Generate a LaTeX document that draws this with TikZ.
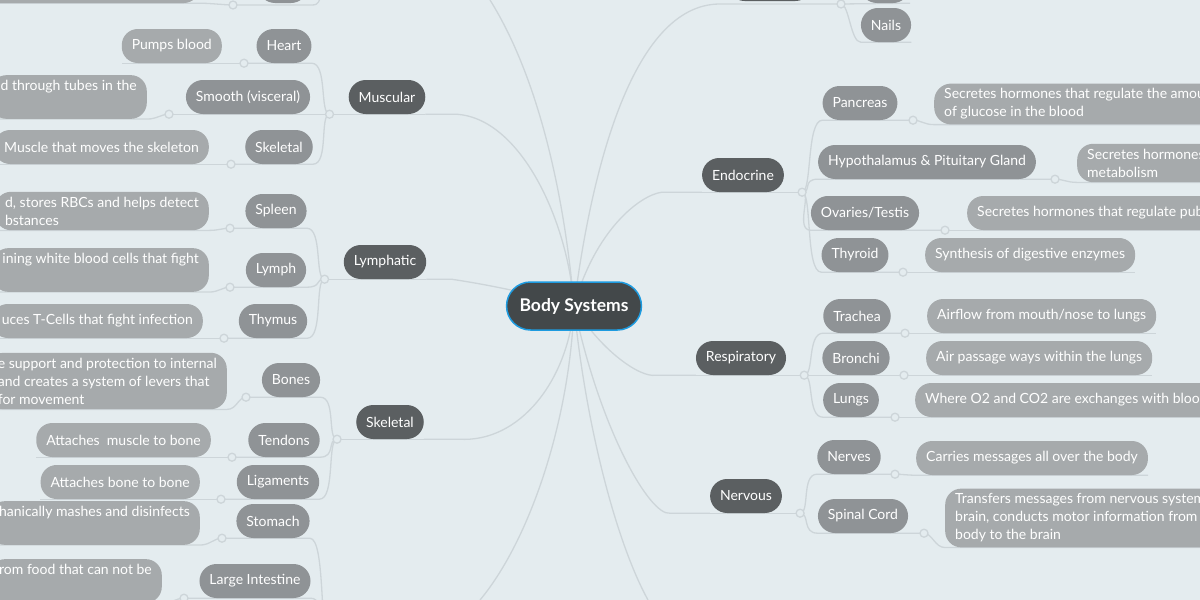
\documentclass[tikz,border=0pt]{standalone}
\usepackage{fontspec}
\setmainfont{Lato}
\usetikzlibrary{backgrounds}
\definecolor{bgc}{HTML}{E4ECEF}
\definecolor{lone}{HTML}{5B5F61}
\definecolor{ltwo}{HTML}{8F9396}
\definecolor{leafc}{HTML}{A6AAAC}
\definecolor{linec}{HTML}{CDD5D9}
\definecolor{cen}{HTML}{43484A}
\definecolor{cenb}{HTML}{1D9BE0}
\tikzset{
  base/.style={text=white, rounded corners=17pt, minimum height=34pt, inner xsep=10pt, inner ysep=5pt, font=\fontsize{14}{18}\selectfont},
  lonebox/.style={base, fill=lone},
  ltwobox/.style={base, fill=ltwo},
  leafbox/.style={base, fill=leafc, align=left, rounded corners=16pt},
  ln/.style={draw=linec, line width=1.3pt},
  dotc/.style={circle, draw=linec, fill=bgc, line width=1.3pt, inner sep=0pt, minimum size=8pt},
}
\begin{document}
\begin{tikzpicture}[x=1pt,y=-1pt]
\useasboundingbox (0,0) rectangle (1200,600);
\clip (0,0) rectangle (1200,600);

% center
\node[base, fill=cen, draw=cenb, line width=1.5pt, minimum height=48pt, rounded corners=24pt, inner xsep=13pt, font=\fontsize{17.5}{20}\selectfont\bfseries] (body) at (574,306) {Body Systems};

% level 1
\node[lonebox] (tr) at (770,-16) {\phantom{Xxxxxxxxx}};
\node[lonebox] (musc) at (387,97) {Muscular};
\node[lonebox] (lymph) at (385,262) {Lymphatic};
\node[lonebox] (skel) at (390,422) {Skeletal};
\node[lonebox] (dig) at (387,620) {\phantom{Digestive}};
\node[lonebox] (endo) at (743,175) {Endocrine};
\node[lonebox] (resp) at (741,358) {Respiratory};
\node[lonebox] (nerv) at (746,496) {Nervous};

% level 2 left
\node[ltwobox] (tlc) at (283,-14) {\phantom{Xxxx}};
\node[ltwobox] (heart) at (284,46) {Heart};
\node[ltwobox] (smooth) at (248,97) {Smooth (visceral)};
\node[ltwobox] (skm) at (279,147) {Skeletal};
\node[ltwobox] (spleen) at (276,211) {Spleen};
\node[ltwobox] (lymphn) at (276,270) {Lymph};
\node[ltwobox] (thymus) at (273,321) {Thymus};
\node[ltwobox] (bones) at (291,380) {Bones};
\node[ltwobox] (tendons) at (284,440) {Tendons};
\node[ltwobox] (lig) at (278,482) {Ligaments};
\node[ltwobox] (stom) at (273,521) {Stomach};
\node[ltwobox] (lint) at (255,581) {Large Intestine};
% level 2 right
\node[ltwobox] (tops) at (885,-14) {\phantom{Xxxx}};
\node[ltwobox] (nails) at (886,25) {Nails};
\node[ltwobox] (panc) at (860,103) {Pancreas};
\node[ltwobox] (hypo) at (927,162) {Hypothalamus \& Pituitary Gland};
\node[ltwobox] (ova) at (865,213) {Ovaries/Testis};
\node[ltwobox] (thyr) at (855,255) {Thyroid};
\node[ltwobox] (trach) at (857,316) {Trachea};
\node[ltwobox] (bron) at (856,358) {Bronchi};
\node[ltwobox] (lungs) at (851,400) {Lungs};
\node[ltwobox] (nerves) at (849,457) {Nerves};
\node[ltwobox] (spinal) at (863,516) {Spinal Cord};

% leaves left
\node[leafbox, anchor=east] (pumps) at (222,46) {Pumps blood};
\node[leafbox, anchor=east] (tubes) at (147,97) {d through tubes in the\\\strut};
\node[leafbox, anchor=east] (moves) at (209,147) {Muscle that moves the skeleton};
\node[leafbox, anchor=east] (rbc) at (209,211) {d, stores RBCs and helps detect\\bstances};
\node[leafbox, anchor=east] (wbc) at (209,270) {ining white blood cells that fight\\\strut};
\node[leafbox, anchor=east] (tcell) at (203,321) {uces T-Cells that fight infection};
\node[leafbox, anchor=east] (supp) at (227,381) {e support and protection to internal\\and creates a system of levers that\\for movement};
\node[leafbox, anchor=east] (att1) at (211,440) {Attaches\ \ muscle to bone};
\node[leafbox, anchor=east] (att2) at (200,482) {Attaches bone to bone};
\node[leafbox, anchor=east] (mash) at (200,523) {hanically mashes and disinfects\\\strut};
\node[leafbox, anchor=east] (food) at (162,581) {rom food that can not be\\\strut};
\node[leafbox, anchor=east] (tll) at (200,-14) {\phantom{Xxxxxxxxxxxxxxxxxxxxxxxxxxxxxxx}};

% leaves right
\node[leafbox, anchor=west, rounded corners=17pt] (l1) at (934,104) {Secretes hormones that regulate the amount\\of glucose in the blood};
\node[leafbox, anchor=west] (l2) at (1077,163) {Secretes hormones that regulate\\metabolism};
\node[leafbox, anchor=west] (l3) at (967,213) {Secretes hormones that regulate puberty};
\node[leafbox, anchor=west] (l4) at (925,255) {Synthesis of digestive enzymes};
\node[leafbox, anchor=west] (l5) at (927,316) {Airflow from mouth/nose to lungs};
\node[leafbox, anchor=west] (l6) at (926,358) {Air passage ways within the lungs};
\node[leafbox, anchor=west] (l7) at (915,400) {Where O2 and CO2 are exchanges with blood};
\node[leafbox, anchor=west] (l8) at (916,458) {Carries messages all over the body};
\node[leafbox, anchor=west] (l9) at (945,518) {Transfers messages from nervous system to the\\brain, conducts motor information from the\\body to the brain};

\begin{scope}[on background layer]
\fill[bgc] (0,0) rectangle (1200,600);
% center connectors
\draw[ln] (musc.south east) -- ++(30,0) .. controls (520,117) and (568,220) .. (body.center);
\draw[ln] (lymph.south east) -- ++(25,0) .. controls (470,282) and (520,290) .. (body.center);
\draw[ln] (skel.south east) -- ++(35,0) .. controls (520,443) and (568,380) .. (body.center);
\draw[ln] (body.center) .. controls (565,200) and (540,80) .. (490,0);
\draw[ln] (body.center) .. controls (570,420) and (530,540) .. (480,600);
\draw[ln] (body.center) .. controls (585,420) and (615,540) .. (648,600);
\draw[ln] (body.center) .. controls (590,180) and (630,4) .. (720,4) -- (841,4);
\draw[ln] (endo.south west) -- ++(-40,0) .. controls (640,195) and (595,230) .. (body.center);
\draw[ln] (resp.south west) -- ++(-40,0) .. controls (640,378) and (600,350) .. (body.center);
\draw[ln] (nerv.south west) -- ++(-40,0) .. controls (650,516) and (600,430) .. (body.center);
% top left stub
\draw[ln] (tll.south west) -- (tll.south east) .. controls +(10,0) and +(-8,0) .. (233,5) -- (312,5) .. controls +(8,0) and +(-4,4) .. (322,-4);
% top right
\draw[ln] (841,4) .. controls +(8,0) and +(-10,0) .. (nails.south west) -- (nails.south east);
\draw[ln] (841,4) -- (tops.south east);

% left groups
\foreach \P/\ch/\cx/\lf in {
 musc/heart/244/pumps, musc/smooth/169/tubes, musc/skm/231/moves,
 lymph/spleen/230/rbc, lymph/lymphn/230/wbc, lymph/thymus/224/tcell,
 skel/bones/246/supp, skel/tendons/232/att1, skel/lig/221/att2,
 dig/stom/222/mash, dig/lint/184/food}{
  \draw[ln] (\P.south east) -- (\P.south west) -- ++(-19,0) coordinate (j\ch);
  \draw[ln] (j\ch) .. controls +(-10,0) and +(16,0) .. (\ch.south east) -- (\ch.south west) -- (\ch.south west -| \cx,0);
  \draw[ln] (\ch.south west -| \cx,0) .. controls +(-8,0) and +(10,0) .. (\lf.south east) -- (\lf.south west);
}
% right groups
\foreach \P/\ch/\cx/\lf in {
 endo/panc/913/l1, endo/hypo/1055/l2, endo/ova/945/l3, endo/thyr/903/l4,
 resp/trach/905/l5, resp/bron/904/l6, resp/lungs/895/l7,
 nerv/nerves/895/l8, nerv/spinal/924/l9}{
  \draw[ln] (\P.south west) -- (\P.south east) -- ++(18,0) coordinate (j\ch);
  \draw[ln] (j\ch) .. controls +(10,0) and +(-16,0) .. (\ch.south west) -- (\ch.south east) -- (\ch.south east -| \cx,0);
  \draw[ln] (\ch.south east -| \cx,0) .. controls +(8,0) and +(-10,0) .. (\lf.south west) -- (\lf.south east);
}
\end{scope}
% junction dots
\foreach \P in {musc,lymph,skel}{ \node[dotc] at ([xshift=-19pt]\P.south west) {}; }
\foreach \P in {endo,resp,nerv}{ \node[dotc] at ([xshift=18pt]\P.south east) {}; }
\foreach \ch/\cx in {heart/244,smooth/169,skm/231,spleen/230,lymphn/230,thymus/224,bones/246,tendons/232,lig/221,stom/222,lint/184}{
  \node[dotc] at (\ch.south west -| \cx,0) {}; }
\foreach \ch/\cx in {panc/913,hypo/1055,ova/945,thyr/903,trach/905,bron/904,lungs/895,nerves/895,spinal/924}{
  \node[dotc] at (\ch.south east -| \cx,0) {}; }
\node[dotc] at (233,5) {};
\node[dotc] at (841,4) {};
\end{tikzpicture}
\end{document}
